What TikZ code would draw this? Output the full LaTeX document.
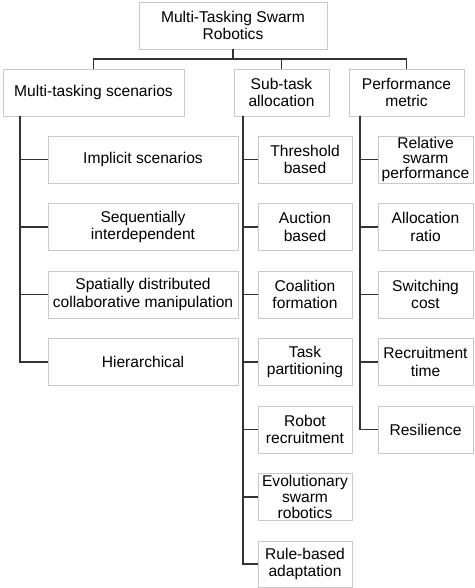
\documentclass[tikz,border=0pt]{standalone}
\usepackage{fontspec}
\setmainfont{Liberation Sans}
\begin{document}
\begin{tikzpicture}[x=1pt,y=-1pt,
  box/.style={draw=gray!42, line width=0.8pt, fill=white, inner sep=0pt, align=center,
    minimum height=47pt, font=\fontsize{15.6}{17.5}\selectfont},
  lbox/.style={box, minimum width=190pt},
  mbox/.style={box, minimum width=94pt},
  rbox/.style={box, minimum width=95pt},
  conn/.style={draw=black!80, line width=1.2pt}]
\useasboundingbox (0,0) rectangle (474,588);
% root and level 2
\node[box, minimum width=188pt] (root) at (233,25.5) {Multi-Tasking Swarm\\Robotics};
\node[box, minimum width=181pt] (ms) at (93.5,92.5) {Multi-tasking scenarios};
\node[box, minimum width=95pt] (sta) at (281.5,92.5) {Sub-task\\allocation};
\node[box, minimum width=115pt] (pm) at (406.5,92.5) {Performance\\metric};
\coordinate (bus) at (233,59);
\draw[conn] (root.south) -- (bus);
\draw[conn] (ms.north) -- (ms.north |- bus) -- (pm.north |- bus) -- (pm.north);
\draw[conn] (sta.north) -- (sta.north |- bus);
% left column
\node[lbox] (l1) at (143,159.5) {Implicit scenarios};
\node[lbox] (l2) at (143,227) {Sequentially\\interdependent};
\node[lbox] (l3) at (143,294.5) {Spatially distributed\\collaborative manipulation};
\node[lbox] (l4) at (143,362) {Hierarchical};
% middle column
\node[mbox] (m1) at (305,159.5) {Threshold\\based};
\node[mbox] (m2) at (305,227) {Auction\\based};
\node[mbox] (m3) at (305,294.5) {Coalition\\formation};
\node[mbox] (m4) at (305,362) {Task\\partitioning};
\node[mbox] (m5) at (305,429.5) {Robot\\recruitment};
\node[mbox, font=\fontsize{15.6}{16}\selectfont] (m6) at (305,497) {Evolutionary\\swarm\\robotics};
\node[mbox, minimum height=46pt] (m7) at (305,564) {Rule-based\\adaptation};
% right column
\node[rbox, font=\fontsize{15.6}{15.2}\selectfont] (r1) at (425.5,159.5) {Relative\\swarm\\performance};
\node[rbox] (r2) at (425.5,227) {Allocation\\ratio};
\node[rbox] (r3) at (425.5,294.5) {Switching\\cost};
\node[rbox] (r4) at (425.5,362) {Recruitment\\time};
\node[rbox] (r5) at (425.5,429.5) {Resilience};
% trunks
\coordinate (tl) at (20,116);
\coordinate (tm) at (243,116);
\coordinate (tr) at (360,116);
\foreach \n in {l1,l2,l3,l4} \draw[conn] (tl) |- (\n.west);
\foreach \n in {m1,m2,m3,m4,m5,m6,m7} \draw[conn] (tm) |- (\n.west);
\foreach \n in {r1,r2,r3,r4,r5} \draw[conn] (tr) |- (\n.west);
\end{tikzpicture}
\end{document}
